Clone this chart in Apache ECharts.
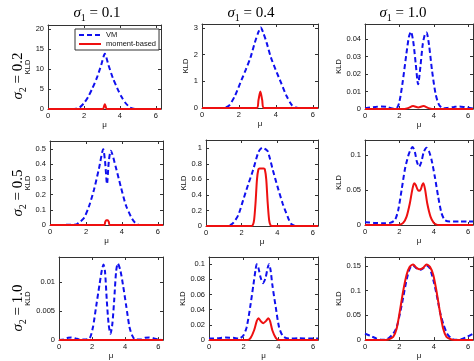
<!DOCTYPE html>
<html><head><meta charset="utf-8">
<script src="https://cdn.jsdelivr.net/npm/echarts@6/dist/echarts.min.js"></script>
<style>html,body{margin:0;padding:0;background:#fff}#c{width:474px;height:361px}</style>
</head><body><div id="c"></div>
<script>
// ---- data (x = mu, y = KLD) ----
const muMax = 6.2832;
const muInterval = 2;
const colSigma1 = ['0.1', '0.4', '1.0'];
const rowSigma2 = ['0.2', '0.5', '1.0'];
const yMax = [21, 3.15, 0.0486, 0.553, 1.107, 0.121, 0.0143, 0.1094, 0.168];
const yInterval = [5, 1, 0.01, 0.1, 0.2, 0.05, 0.005, 0.02, 0.05];

const vm11 = [[0,0],[1.36,0],[1.56,0.08],[1.76,0.4],[2.01,1.5],[2.24,3.1],[2.46,5.1],[2.71,7.7],[2.96,11.0],[3.16,13.8],[3.36,11.0],[3.61,7.7],[3.86,5.1],[4.08,3.1],[4.31,1.5],[4.56,0.4],[4.76,0.08],[4.96,0],[6.2832,0]];
const mb11 = [[0,0],[3.06,0],[3.11,0.6],[3.16,1.2],[3.21,0.6],[3.26,0],[6.2832,0]];

const vm12 = [[0,0],[0.98,0],[1.23,0.01],[1.48,0.1],[1.78,0.45],[2.08,0.95],[2.38,1.45],[2.63,1.9],[2.86,2.45],[3.03,2.8],[3.18,3.02],[3.33,2.8],[3.5,2.45],[3.73,1.9],[3.98,1.45],[4.28,0.95],[4.58,0.45],[4.88,0.1],[5.13,0.01],[5.38,0],[6.2832,0]];
const mb12 = [[0,0],[2.96,0],[3.06,0.3],[3.16,0.62],[3.26,0.3],[3.36,0],[6.2832,0]];

const vm13 = [[0,0.0005],[0.3,0.0008],[0.6,0.0012],[0.95,0.0015],[1.3,0.0011],[1.6,0.0003],[1.85,0.0006],[2.0,0.004],[2.2,0.016],[2.4,0.031],[2.55,0.041],[2.67,0.0442],[2.8,0.039],[2.95,0.026],[3.09,0.0141],[3.22,0.024],[3.36,0.037],[3.48,0.0425],[3.58,0.0437],[3.72,0.037],[3.9,0.022],[4.1,0.009],[4.3,0.0025],[4.55,0.0003],[4.8,0.0006],[5.2,0.0012],[5.5,0.0015],[5.8,0.0011],[6.1,0.0006],[6.2832,0.0004]];
const mb13 = [[0,0],[2.3,0],[2.5,0.0005],[2.8,0.0017],[3.1,0.0009],[3.4,0.0017],[3.7,0.0005],[3.9,0],[6.2832,0]];

const vm21 = [[0,0],[1.45,0.003],[1.6,0.015],[1.88,0.044],[2.16,0.12],[2.44,0.23],[2.72,0.37],[2.96,0.498],[3.06,0.42],[3.17,0.27],[3.27,0.42],[3.38,0.489],[3.66,0.38],[3.94,0.25],[4.22,0.13],[4.5,0.055],[4.69,0.02],[4.85,0.005],[5.0,0],[6.2832,0]];
const mb21 = [[0,0],[3.02,0],[3.07,0.02],[3.13,0.032],[3.21,0.032],[3.27,0.02],[3.32,0],[6.2832,0]];

const vm22 = [[0,0],[1.2,0],[1.35,0.01],[1.53,0.04],[1.81,0.14],[2.08,0.33],[2.36,0.53],[2.64,0.72],[2.92,0.94],[3.05,0.99],[3.19,1.01],[3.33,0.99],[3.47,0.96],[3.75,0.72],[4.02,0.5],[4.3,0.29],[4.58,0.12],[4.76,0.03],[4.95,0.005],[5.1,0],[6.2832,0]];
const mb22 = [[0,0],[2.5,0],[2.62,0.01],[2.7,0.08],[2.78,0.3],[2.86,0.6],[2.94,0.73],[3.0,0.74],[3.24,0.74],[3.3,0.73],[3.38,0.6],[3.46,0.3],[3.54,0.08],[3.62,0.01],[3.74,0],[6.2832,0]];

const vm23 = [[0,0.004],[0.5,0.003],[1.0,0.0025],[1.45,0.003],[1.74,0.007],[1.93,0.021],[2.13,0.05],[2.32,0.079],[2.51,0.098],[2.65,0.107],[2.77,0.111],[2.9,0.104],[3.02,0.09],[3.15,0.083],[3.28,0.09],[3.42,0.104],[3.58,0.11],[3.72,0.105],[3.87,0.093],[4.06,0.069],[4.26,0.04],[4.45,0.017],[4.64,0.007],[4.93,0.005],[5.5,0.005],[6.0,0.005],[6.2832,0.005]];
const mb23 = [[0,0],[1.9,0],[2.03,0.0005],[2.22,0.003],[2.42,0.012],[2.61,0.031],[2.75,0.05],[2.86,0.0595],[2.95,0.057],[3.05,0.051],[3.15,0.0486],[3.25,0.051],[3.33,0.057],[3.4,0.0595],[3.5,0.05],[3.62,0.031],[3.81,0.012],[4.0,0.003],[4.16,0.0005],[4.3,0],[6.2832,0]];

const vm31 = [[0,0],[0.3,0.0001],[0.55,0.0004],[0.75,0.00045],[1.0,0.0003],[1.25,0.0001],[1.55,0.0001],[1.85,0.0003],[2.05,0.0022],[2.25,0.0059],[2.45,0.0096],[2.6,0.0122],[2.69,0.013],[2.78,0.0118],[2.89,0.0067],[3.0,0.0027],[3.11,0.0011],[3.22,0.0027],[3.33,0.0067],[3.45,0.0118],[3.55,0.0132],[3.7,0.0121],[3.86,0.0096],[4.06,0.0059],[4.26,0.0022],[4.42,0.0008],[4.6,0.0001],[4.9,0.0001],[5.2,0.0004],[5.45,0.00045],[5.75,0.0003],[6.0,0.0001],[6.2832,0]];
const mb31 = [[0,0],[3.14,0],[6.2832,0]];

const vm32 = [[0,0.002],[0.5,0.0025],[0.96,0.0034],[1.4,0.003],[1.73,0.002],[1.98,0.006],[2.17,0.017],[2.37,0.043],[2.56,0.073],[2.68,0.092],[2.75,0.1],[2.85,0.095],[2.98,0.082],[3.12,0.075],[3.26,0.082],[3.38,0.095],[3.46,0.1],[3.55,0.092],[3.65,0.073],[3.85,0.043],[4.04,0.017],[4.27,0.005],[4.6,0.002],[5.2,0.0025],[5.8,0.002],[6.2832,0.002]];
const mb32 = [[0,0],[2.2,0],[2.4,0.003],[2.6,0.013],[2.75,0.025],[2.85,0.0288],[2.98,0.025],[3.13,0.0223],[3.28,0.025],[3.42,0.0288],[3.52,0.025],[3.65,0.013],[3.85,0.003],[4.04,0],[6.2832,0]];

const vm33 = [[0,0.013],[0.35,0.008],[0.68,0.003],[0.97,0.0005],[1.3,0.002],[1.64,0.013],[1.84,0.026],[2.03,0.053],[2.22,0.086],[2.42,0.122],[2.61,0.145],[2.8,0.151],[3.0,0.145],[3.19,0.142],[3.38,0.145],[3.58,0.151],[3.77,0.145],[4.0,0.118],[4.2,0.086],[4.39,0.053],[4.58,0.03],[4.78,0.013],[5.03,0.003],[5.3,0.0005],[5.6,0.002],[5.95,0.007],[6.2832,0.013]];
const mb33 = [[0,0],[1.06,0],[1.35,0.0013],[1.64,0.0066],[1.84,0.023],[2.03,0.059],[2.22,0.099],[2.42,0.132],[2.6,0.148],[2.8,0.153],[3.0,0.146],[3.19,0.143],[3.38,0.146],[3.58,0.153],[3.78,0.148],[3.97,0.132],[4.16,0.099],[4.35,0.059],[4.55,0.023],[4.74,0.0066],[5.03,0.0013],[5.3,0],[6.2832,0]];

const vmSeries = [vm11, vm12, vm13, vm21, vm22, vm23, vm31, vm32, vm33];
const mbSeries = [mb11, mb12, mb13, mb21, mb22, mb23, mb31, mb32, mb33];

// ---- layout (pixel boxes: left, top, right, bottom) ----
const boxes = [
  [48, 25, 161, 109], [202, 24, 318, 108], [365, 24, 473, 109],
  [50, 141, 163, 225], [206, 140, 318, 226], [365, 140, 473, 225],
  [59, 257, 163, 342], [209, 257, 318, 342], [365, 257, 473, 342]
];
const yNameGap = [15, 8, 14, 17, 15, 21, 18, 18, 14];
const colTitleX = [97, 251, 403];
const rowTitleY = [76, 193, 308];

const AX = '#333';
const SANS = 'Liberation Sans';
const SERIF = 'Liberation Serif';

function fmt(v, step) {
  const k = v / step;
  if (Math.abs(k - Math.round(k)) > 1e-6) return '';
  return String(parseFloat(v.toPrecision(6)));
}

const grids = [], xAxes = [], yAxes = [], series = [];
boxes.forEach((b, i) => {
  grids.push({left: b[0], top: b[1], width: b[2] - b[0], height: b[3] - b[1], show: false});
  const common = {
    type: 'value', gridIndex: i,
    axisLine: {show: true, onZero: false, lineStyle: {color: AX, width: 1}},
    axisTick: {show: true, inside: true, length: 3, lineStyle: {color: AX, width: 1}},
    splitLine: {show: false}
  };
  xAxes.push(Object.assign({}, common, {
    position: 'bottom', min: 0, max: muMax, interval: muInterval,
    axisLabel: {fontSize: 7.5, fontFamily: SANS, color: '#111', margin: 3, showMaxLabel: false,
      formatter: v => fmt(v, muInterval)},
    name: 'μ', nameLocation: 'middle', nameGap: 11,
    nameTextStyle: {fontSize: 8, fontFamily: SANS, color: '#111'}
  }));
  xAxes.push(Object.assign({}, common, {
    position: 'top', min: 0, max: muMax, interval: muInterval, axisLabel: {show: false}
  }));
  yAxes.push(Object.assign({}, common, {
    position: 'left', min: 0, max: yMax[i], interval: yInterval[i],
    axisLabel: {fontSize: 7.5, fontFamily: SANS, color: '#111', margin: 4, showMaxLabel: false,
      formatter: v => fmt(v, yInterval[i])},
    name: 'KLD', nameLocation: 'middle', nameGap: yNameGap[i], nameRotate: 90,
    nameTextStyle: {fontSize: 7.5, fontFamily: SANS, color: '#111'}
  }));
  yAxes.push(Object.assign({}, common, {
    position: 'right', min: 0, max: yMax[i], interval: yInterval[i], axisLabel: {show: false}
  }));
  series.push({
    type: 'line', name: 'VM', xAxisIndex: 2 * i, yAxisIndex: 2 * i, data: vmSeries[i],
    symbol: 'none', smooth: 0.25, z: 2,
    lineStyle: {color: '#1010ee', width: 2, type: [5, 3]}, itemStyle: {color: '#1010ee'}
  });
  series.push({
    type: 'line', name: 'moment-based', xAxisIndex: 2 * i, yAxisIndex: 2 * i, data: mbSeries[i],
    symbol: 'none', smooth: 0.25, z: 3,
    lineStyle: {color: '#ee1010', width: 2}, itemStyle: {color: '#ee1010'}
  });
});

function sigmaText(sub, val) {
  return '{g|σ}{s|' + sub + '}{n| = ' + val + '}';
}
const richStyle = {
  g: {fontSize: 15, fontStyle: 'italic', fontFamily: SERIF, lineHeight: 20, fill: '#000', color: '#000'},
  s: {fontSize: 10, fontFamily: SERIF, lineHeight: 10, verticalAlign: 'bottom', color: '#000'},
  n: {fontSize: 15, fontFamily: SERIF, lineHeight: 20, color: '#000'}
};
const graphics = [];
colSigma1.forEach((v, j) => {
  graphics.push({type: 'text', x: colTitleX[j], y: 13, z: 10,
    style: {text: sigmaText('1', v), rich: richStyle, align: 'center', verticalAlign: 'middle', fill: '#000'}});
});
rowSigma2.forEach((v, r) => {
  graphics.push({type: 'text', x: 18, y: rowTitleY[r], rotation: Math.PI / 2, z: 10,
    style: {text: sigmaText('2', v), rich: richStyle, align: 'center', verticalAlign: 'middle', fill: '#000'}});
});

const chart = echarts.init(document.getElementById('c'), null, {renderer: 'canvas'});
chart.setOption({
  animation: false,
  backgroundColor: '#fff',
  grid: grids, xAxis: xAxes, yAxis: yAxes, series: series,
  legend: {
    data: ['VM', 'moment-based'], left: 75, top: 29, orient: 'vertical',
    itemWidth: 22, itemHeight: 8, itemGap: 1, padding: [2, 3],
    borderColor: AX, borderWidth: 1, backgroundColor: '#fff', selectedMode: false,
    itemStyle: {opacity: 0, borderWidth: 0},
    lineStyle: {width: 2},
    textStyle: {fontSize: 7.5, fontFamily: SANS, color: '#111'}
  },
  graphic: graphics
});
</script></body></html>
